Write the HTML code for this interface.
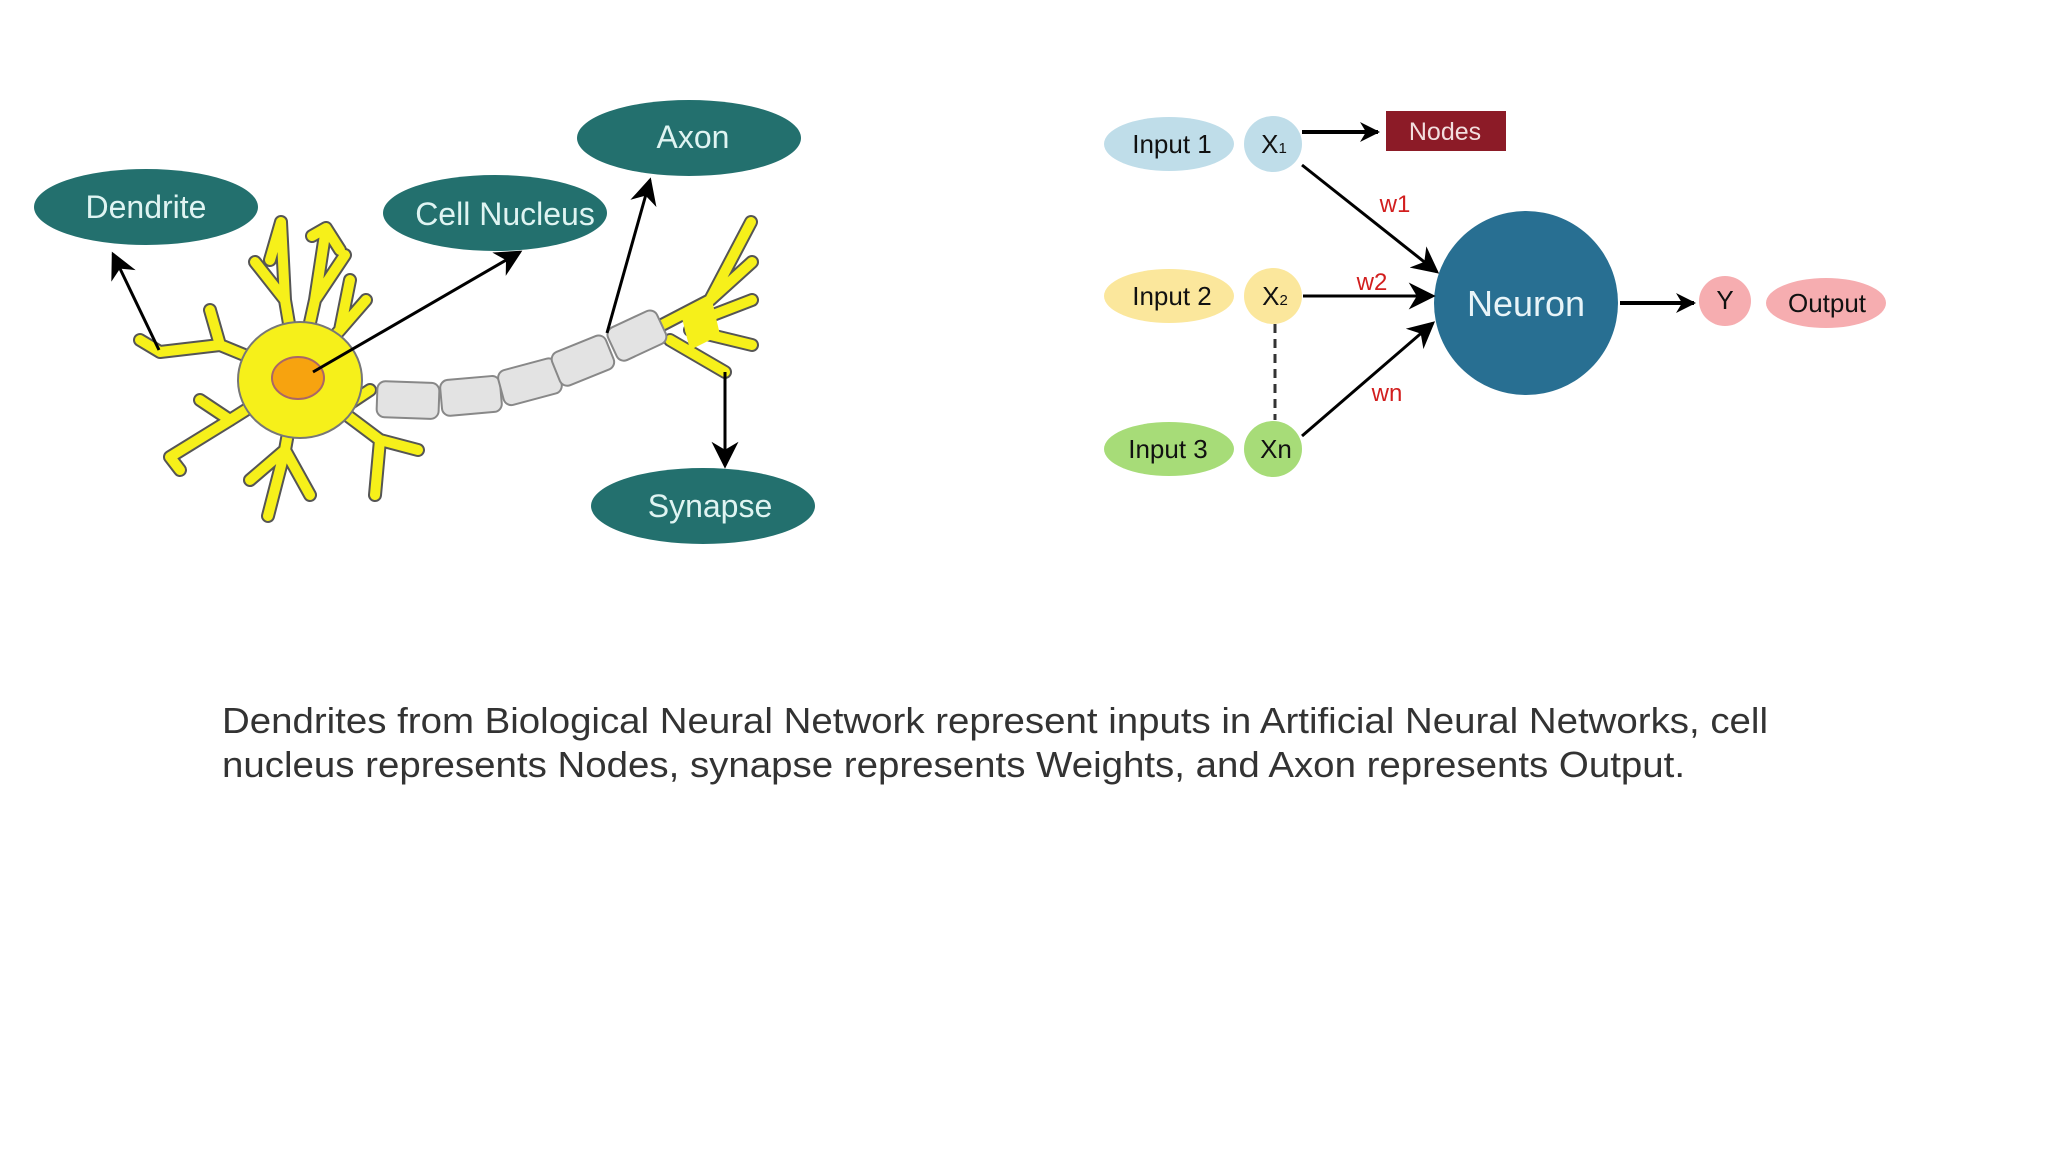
<!DOCTYPE html>
<html><head><meta charset="utf-8"><style>
html,body{margin:0;padding:0;background:#fff;}
svg{display:block;}
</style></head><body>
<svg width="2048" height="1152" viewBox="0 0 2048 1152" xmlns="http://www.w3.org/2000/svg">
<defs>
<marker id="ah" viewBox="0 0 10 10" refX="9" refY="5" markerWidth="5" markerHeight="5" orient="auto" markerUnits="strokeWidth"><path d="M0,0 L10,5 L0,10 L3,5 z" fill="#000"/></marker>
<marker id="ah2" viewBox="0 0 10 10" refX="9" refY="5" markerWidth="9" markerHeight="9" orient="auto" markerUnits="strokeWidth"><path d="M0,0 L10,5 L0,10 L3,5 z" fill="#000"/></marker>
</defs>

<g stroke-linecap="round" stroke-linejoin="round" fill="none">
 <g stroke="#555" stroke-width="14">
  <path d="M298,377 L285,300 L281,222 M285,300 L255,262 M281,222 L270,260"/>
  <path d="M298,377 L315,300 L326,228 M315,300 L345,255 M326,228 L340,250 M326,228 L312,236"/>
  <path d="M298,377 L220,345 L160,352 M220,345 L210,310 M160,352 L140,340"/>
  <path d="M298,377 L230,420 L170,457 M230,420 L200,400 M170,457 L180,470"/>
  <path d="M298,377 L285,450 L268,516 M285,450 L250,480 M285,450 L310,495"/>
  <path d="M298,377 L340,410 L380,440 L418,450 M380,440 L375,495 M340,410 L370,390"/>
  <path d="M298,377 L340,330 L366,300 M340,330 L350,280"/>
  <path d="M660,326 L710,300 L751,222 M710,300 L752,262 M700,320 L752,300 M690,330 L752,345 M670,340 L725,372"/>
 </g>
 <g stroke="#f6f01a" stroke-width="10">
  <path d="M298,377 L285,300 L281,222 M285,300 L255,262 M281,222 L270,260"/>
  <path d="M298,377 L315,300 L326,228 M315,300 L345,255 M326,228 L340,250 M326,228 L312,236"/>
  <path d="M298,377 L220,345 L160,352 M220,345 L210,310 M160,352 L140,340"/>
  <path d="M298,377 L230,420 L170,457 M230,420 L200,400 M170,457 L180,470"/>
  <path d="M298,377 L285,450 L268,516 M285,450 L250,480 M285,450 L310,495"/>
  <path d="M298,377 L340,410 L380,440 L418,450 M380,440 L375,495 M340,410 L370,390"/>
  <path d="M298,377 L340,330 L366,300 M340,330 L350,280"/>
  <path d="M660,326 L710,300 L751,222 M710,300 L752,262 M700,320 L752,300 M690,330 L752,345 M670,340 L725,372"/>
 </g>
</g>
<path d="M680,310 L712,300 L720,335 L690,350 Z" fill="#f6f01a"/>
<ellipse cx="300" cy="380" rx="62" ry="58" fill="#f6f01a" stroke="#777" stroke-width="2"/>
<ellipse cx="298" cy="378" rx="26" ry="21" fill="#f7a30f" stroke="#a66" stroke-width="2"/>

<g fill="#e3e3e3" stroke="#888" stroke-width="2">
 <rect x="377" y="382" width="62" height="36" rx="8" transform="rotate(2 407 400)"/>
 <rect x="441" y="378" width="60" height="36" rx="8" transform="rotate(-5 470 396)"/>
 <rect x="500" y="364" width="60" height="36" rx="8" transform="rotate(-15 529 382)"/>
 <rect x="554" y="343" width="58" height="36" rx="8" transform="rotate(-22 582 361)"/>
 <rect x="610" y="318" width="54" height="36" rx="8" transform="rotate(-25 636 336)"/>
</g>

<g stroke="#000" stroke-width="3" fill="none">
 <line x1="159" y1="350" x2="113" y2="254" marker-end="url(#ah2)"/>
 <line x1="313" y1="372" x2="520" y2="252" marker-end="url(#ah2)"/>
 <line x1="607" y1="333" x2="650" y2="180" marker-end="url(#ah2)"/>
 <line x1="725" y1="372" x2="725" y2="466" marker-end="url(#ah2)"/>
</g>

<g fill="#23706e">
 <ellipse cx="146" cy="207" rx="112" ry="38"/>
 <ellipse cx="495" cy="213" rx="112" ry="38"/>
 <ellipse cx="689" cy="138" rx="112" ry="38"/>
 <ellipse cx="703" cy="506" rx="112" ry="38"/>
</g>
<g fill="#dff4f2" font-family="Liberation Sans, sans-serif" font-size="32" text-anchor="middle">
 <text x="146" y="218">Dendrite</text>
 <text x="505" y="225">Cell Nucleus</text>
 <text x="693" y="148">Axon</text>
 <text x="710" y="517">Synapse</text>
</g>

<ellipse cx="1169" cy="144" rx="65" ry="27" fill="#bfdde9"/>
<ellipse cx="1273" cy="144" rx="29" ry="28" fill="#bfdde9"/>
<ellipse cx="1169" cy="296" rx="65" ry="27" fill="#fbe79c"/>
<ellipse cx="1273" cy="296" rx="29" ry="28" fill="#fbe79c"/>
<ellipse cx="1169" cy="449" rx="65" ry="27" fill="#a7dc78"/>
<ellipse cx="1273" cy="449" rx="29" ry="28" fill="#a7dc78"/>
<rect x="1386" y="111" width="120" height="40" fill="#8c1b27"/>
<circle cx="1526" cy="303" r="92" fill="#286f92"/>
<ellipse cx="1725" cy="301" rx="26" ry="25" fill="#f6adb0"/>
<ellipse cx="1826" cy="303" rx="60" ry="25" fill="#f6adb0"/>

<line x1="1275" y1="324" x2="1275" y2="420" stroke="#333" stroke-width="3" stroke-dasharray="9,6"/>
<g stroke="#000" stroke-width="3" fill="none">
 <line x1="1302" y1="132" x2="1378" y2="132" stroke-width="4" marker-end="url(#ah)"/>
 <line x1="1302" y1="165" x2="1437" y2="272" marker-end="url(#ah2)"/>
 <line x1="1303" y1="296" x2="1433" y2="296" marker-end="url(#ah2)"/>
 <line x1="1302" y1="436" x2="1433" y2="323" marker-end="url(#ah2)"/>
 <line x1="1620" y1="303" x2="1694" y2="303" stroke-width="4" marker-end="url(#ah)"/>
</g>

<g font-family="Liberation Sans, sans-serif" font-size="26" text-anchor="middle" fill="#111">
 <text x="1172" y="153">Input 1</text>
 <text x="1172" y="305">Input 2</text>
 <text x="1168" y="458">Input 3</text>
 <text x="1274" y="153">X<tspan font-size="15">1</tspan></text>
 <text x="1275" y="305">X<tspan font-size="15">2</tspan></text>
 <text x="1276" y="458">Xn</text>
 <text x="1725" y="309">Y</text>
 <text x="1827" y="312">Output</text>
</g>
<text x="1445" y="140" font-family="Liberation Sans, sans-serif" font-size="25" fill="#f2dede" text-anchor="middle">Nodes</text>
<text x="1526" y="316" font-family="Liberation Sans, sans-serif" font-size="36" fill="#e8f4f8" text-anchor="middle">Neuron</text>
<g font-family="Liberation Sans, sans-serif" font-size="24" fill="#d21e1e" text-anchor="middle">
 <text x="1395" y="212">w1</text>
 <text x="1372" y="290">w2</text>
 <text x="1387" y="401">wn</text>
</g>

<g font-family="Liberation Sans, sans-serif" font-size="36" fill="#333">
 <text x="222" y="733" textLength="1546" lengthAdjust="spacingAndGlyphs">Dendrites from Biological Neural Network represent inputs in Artificial Neural Networks, cell</text>
 <text x="222" y="777" textLength="1463" lengthAdjust="spacingAndGlyphs">nucleus represents Nodes, synapse represents Weights, and Axon represents Output.</text>
</g>
</svg>
</body></html>
